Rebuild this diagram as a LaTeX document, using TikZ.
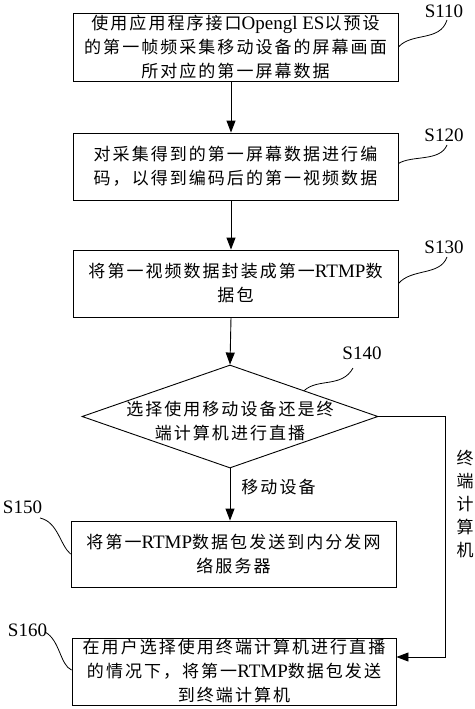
\documentclass[tikz,border=0pt]{standalone}
\usepackage{fontspec}
\setmainfont{Liberation Serif}
\newfontfamily\cjkfont[LetterSpace=12]{Noto Sans CJK SC}
\newcommand\zh[1]{{\cjkfont\fontsize{17}{24}\selectfont #1}}
\usetikzlibrary{arrows.meta,shapes.geometric}
\begin{document}
\begin{tikzpicture}[x=1pt,y=-1pt,
  line width=0.9pt,
  box/.style={draw, rectangle, inner sep=0pt, align=center, minimum width=325pt,
    font=\fontsize{19}{24}\selectfont},
  txt/.style={inner sep=0pt, align=center, font=\fontsize{19}{24}\selectfont},
  lab/.style={inner sep=0pt, font=\fontsize{19}{22}\selectfont},
  arr/.style={-{Triangle[length=12pt,width=9pt]}},
  lead/.style={line width=0.8pt}]
\useasboundingbox (0,0) rectangle (474,709);
\coordinate (ax) at (231,0);
\coordinate (rc) at (445,0);
\coordinate (ry) at (0,657);

\node[box, minimum height=68pt] (b1) at (235.5,47)
  {\zh{使用应用程序接口}Opengl ES\zh{以预设}\\\zh{的第一帧频采集移动设备的屏幕画面}\\\zh{所对应的第一屏幕数据}};
\node[box, minimum height=67pt] (b2) at (235.5,166.5)
  {\zh{对采集得到的第一屏幕数据进行编}\\\zh{码，以得到编码后的第一视频数据}};
\node[box, minimum height=67pt] (b3) at (235.5,283.5)
  {\zh{将第一视频数据封装成第一}RTMP\zh{数}\\\zh{据包}};
\node[draw, diamond, minimum width=296pt, minimum height=103pt, inner sep=0pt] (d) at (230,416.5) {};
\node[txt] (dt) at (230,421) {\zh{选择使用移动设备还是终}\\\zh{端计算机进行直播}};
\node[box, minimum height=66pt] (b5) at (233.5,554)
  {\zh{将第一}RTMP\zh{数据包发送到内分发网}\\\zh{络服务器}};
\node[box, minimum width=324pt, minimum height=67pt] (b6) at (234,671.5)
  {\zh{在用户选择使用终端计算机进行直播}\\\zh{的情况下，将第一}RTMP\zh{数据包发送}\\\zh{到终端计算机}};

\node[txt, anchor=west] (ml) at (241,487) {\zh{移动设备}};
\node[inner sep=0pt, align=center, font=\cjkfont\fontsize{17}{23}\selectfont] (tl) at (465,504) {终\\端\\计\\算\\机};

\node[lab] (s110) at (444,11) {S110};
\node[lab] (s120) at (444,135) {S120};
\node[lab] (s130) at (444,247) {S130};
\node[lab] (s140) at (362,353) {S140};
\node[lab] (s150) at (22.5,507) {S150};
\node[lab] (s160) at (27.5,630) {S160};

\draw[arr] (b1.south -| ax) -- (b2.north -| ax);
\draw[arr] (b2.south -| ax) -- (b3.north -| ax);
\draw[arr] (b3.south -| ax) -- (d.north);
\draw[arr] (d.south) -- (b5.north -| d.south);
\draw[arr] (d.east) -- (d.east -| rc) -- (rc |- ry) -- (b6.east |- ry);

\draw[lead] (b1.east) .. controls (412,32) and (440,42) .. (447,20);
\draw[lead] ([yshift=3pt]b2.east) .. controls (412,155) and (440,162) .. (447,145);
\draw[lead] (b3.east) .. controls (412,268) and (440,276) .. (447,257);
\draw[lead] (d.north east) .. controls (318,378) and (342,388) .. (353,368);
\draw[lead] (b5.west) .. controls (60,545) and (58,522) .. (40,518);
\draw[lead] ([yshift=1.5pt]b6.west) .. controls (60,665) and (60,640) .. (45,632);
\end{tikzpicture}
\end{document}
